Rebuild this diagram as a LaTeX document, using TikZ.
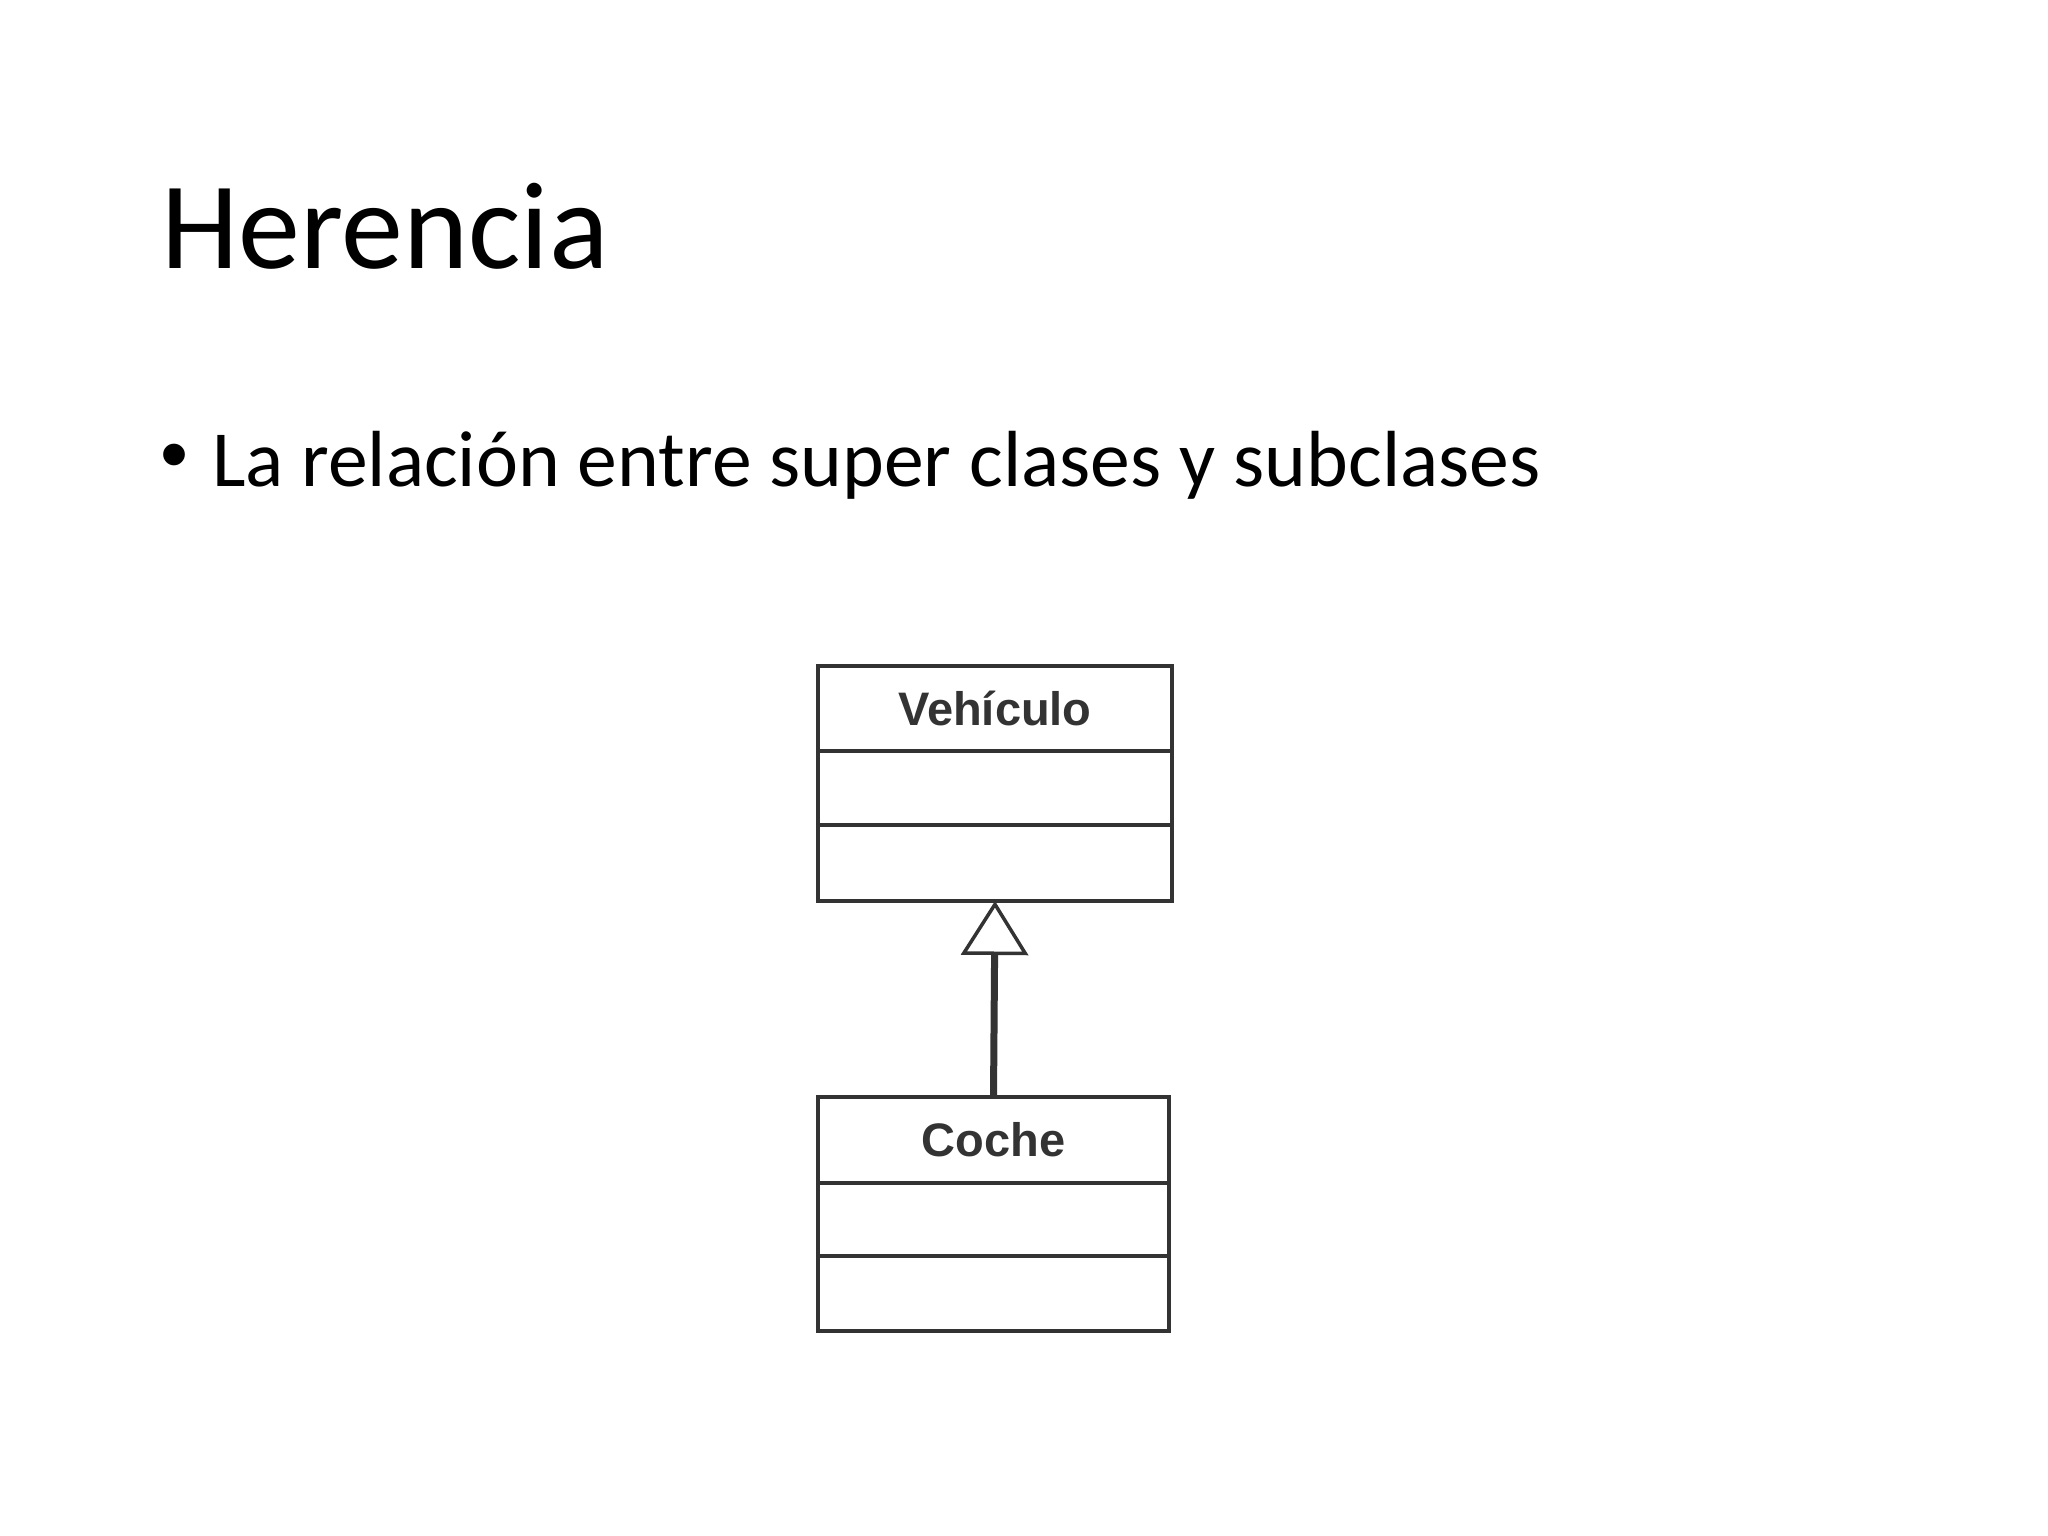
\documentclass[tikz,border=0pt]{standalone}
\usepackage{fontspec}
\setmainfont{Carlito}
\newfontfamily\umlfont{Liberation Sans}
\newfontfamily\bulletfont{Liberation Sans}
\usetikzlibrary{arrows.meta,positioning}
\definecolor{umlgray}{HTML}{333333}
\tikzset{
  slidetext/.style={inner sep=0pt, outer sep=0pt, anchor=base west, text=black},
  compbox/.style={draw=umlgray, line width=3.5pt, inner sep=0pt, outer sep=0pt, fill=white},
  headbox/.style={compbox, font=\umlfont\bfseries\fontsize{47}{50}\selectfont, text=umlgray},
  inherit/.style={draw=umlgray, line width=7pt, -{Triangle[open, length=54pt, width=67pt, line width=3.5pt]}}
}
\begin{document}
\begin{tikzpicture}[x=1pt,y=-1pt]
\useasboundingbox[fill=white] (0,0) rectangle (2048,1536);
\node[slidetext, font=\fontsize{124}{140}\selectfont] (title) at (161,268) {Herencia};
\node[inner sep=0pt, outer sep=0pt, font=\bulletfont\fontsize{80}{90}\selectfont] (bullet) at (175,463) {•};
\node[slidetext, font=\fontsize{79.6}{100}\selectfont] (item) at (212,486) {La relación entre super clases y subclases};
% Vehiculo
\node[headbox, minimum width=354pt, minimum height=85pt] (veh) at (995,708.5) {Vehículo};
\node[compbox, minimum width=354pt, minimum height=74pt, anchor=north] (veh2) at (veh.south) {};
\node[compbox, minimum width=354pt, minimum height=76pt, anchor=north] (veh3) at (veh2.south) {};
% Coche
\node[headbox, minimum width=351pt, minimum height=86pt] (coche) at (993.5,1140) {Coche};
\node[compbox, minimum width=351pt, minimum height=73pt, anchor=north] (coche2) at (coche.south) {};
\node[compbox, minimum width=351pt, minimum height=75pt, anchor=north] (coche3) at (coche2.south) {};
\draw[inherit] (coche.north) -- (veh3.south);
\end{tikzpicture}
\end{document}
